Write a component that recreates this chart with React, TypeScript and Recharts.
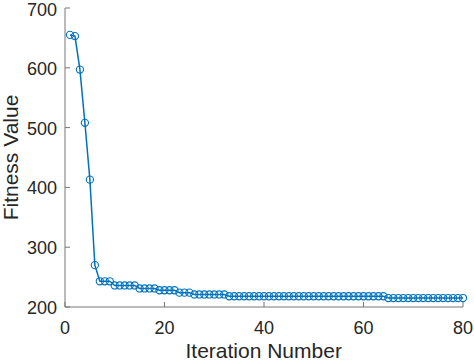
import React from "react";
import { LineChart, Line, XAxis, YAxis, Label } from "recharts";

// iteration numbers and best fitness per iteration
const iterations = [
  1, 2, 3, 4, 5, 6, 7, 8, 9, 10, 11, 12, 13, 14, 15, 16, 17, 18, 19, 20,
  21, 22, 23, 24, 25, 26, 27, 28, 29, 30, 31, 32, 33, 34, 35, 36, 37, 38, 39, 40,
  41, 42, 43, 44, 45, 46, 47, 48, 49, 50, 51, 52, 53, 54, 55, 56, 57, 58, 59, 60,
  61, 62, 63, 64, 65, 66, 67, 68, 69, 70, 71, 72, 73, 74, 75, 76, 77, 78, 79, 80,
];

const fitness = [
  655, 653, 597, 508, 413, 270, 243, 243, 243, 236, 236, 236, 236, 236, 231, 231,
  231, 231, 228, 228, 228, 228, 224, 224, 224, 221, 221, 221, 221, 221, 221, 221,
  218, 218, 218, 218, 218, 218, 218, 218, 218, 218, 218, 218, 218, 218, 218, 218,
  218, 218, 218, 218, 218, 218, 218, 218, 218, 218, 218, 218, 218, 218, 218, 218,
  215, 215, 215, 215, 215, 215, 215, 215, 215, 215, 215, 215, 215, 215, 215, 215,
];

const xTicks = [0, 20, 40, 60, 80];
const yTicks = [200, 300, 400, 500, 600, 700];

const data = iterations.map((it, i) => ({ iter: it, value: fitness[i] }));

const FONT = "'Liberation Sans', Arial, Helvetica, sans-serif";
const TEXT = "#262626";
const AXIS = "#767676";
const BLUE = "#0072BD";

const BottomTick = ({ x, payload }: any) => (
  <text x={x} y={334} textAnchor="middle" fontSize={18} fontFamily={FONT} fill={TEXT}>
    {payload.value}
  </text>
);

const LeftTick = ({ y, payload }: any) => (
  <text x={57} y={y + 7} textAnchor="end" fontSize={18} fontFamily={FONT} fill={TEXT}>
    {payload.value}
  </text>
);

export default function App() {
  return (
    <div style={{ position: "absolute", left: 0, top: 0, background: "#fff" }}>
      <LineChart
        width={474}
        height={363}
        data={data}
        margin={{ top: 8, right: 11, left: 0, bottom: 0 }}
      >
        <XAxis
          dataKey="iter"
          type="number"
          domain={[0, 80]}
          ticks={xTicks}
          height={56}
          stroke={AXIS}
          tickSize={-5}
          tick={<BottomTick />}
        >
          <Label
            content={() => (
              <text x={263.7} y={358} textAnchor="middle" fontSize={21} fontFamily={FONT} fill={TEXT}>
                Iteration Number
              </text>
            )}
          />
        </XAxis>
        <XAxis
          xAxisId="top"
          orientation="top"
          type="number"
          domain={[0, 80]}
          ticks={xTicks}
          height={0}
          stroke={AXIS}
          tickSize={-5}
          tick={false}
        />
        <YAxis
          type="number"
          domain={[200, 700]}
          ticks={yTicks}
          width={65}
          stroke={AXIS}
          tickSize={-5}
          tick={<LeftTick />}
        >
          <Label
            content={() => (
              <text
                x={18}
                y={157.5}
                transform="rotate(-90 18 157.5)"
                textAnchor="middle"
                fontSize={21}
                fontFamily={FONT}
                fill={TEXT}
              >
                Fitness Value
              </text>
            )}
          />
        </YAxis>
        <YAxis
          yAxisId="right"
          orientation="right"
          type="number"
          domain={[200, 700]}
          ticks={yTicks}
          width={0}
          stroke={AXIS}
          tickSize={-5}
          tick={false}
        />
        <Line
          dataKey="value"
          stroke={BLUE}
          strokeWidth={1.5}
          dot={{ r: 3.6, stroke: BLUE, strokeWidth: 1.1, fill: "none" }}
          activeDot={false}
          isAnimationActive={false}
        />
      </LineChart>
    </div>
  );
}
